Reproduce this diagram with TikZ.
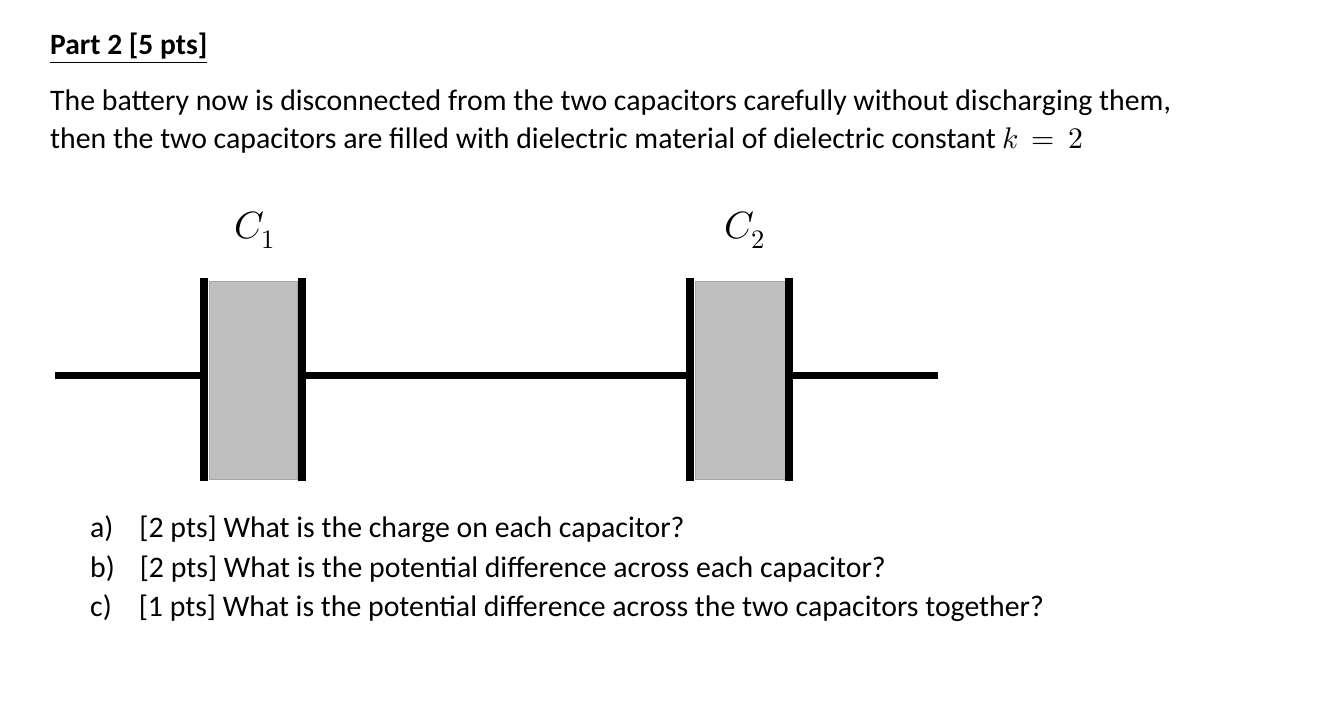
\documentclass[tikz,border=0pt]{standalone}
\usepackage{fontspec}
\usepackage{unicode-math}
\setmainfont{Carlito}
\setmathfont{Latin Modern Math}
\begin{document}
\begin{tikzpicture}[x=1pt,y=-1pt,
  body/.style={anchor=base west,inner sep=0pt,font=\fontsize{29.8}{34}\selectfont},
  plate/.style={line width=8pt},
  wire/.style={line width=7pt},
  diel/.style={fill=black!25,draw=black!35,line width=1pt}]
\useasboundingbox (0,0) rectangle (1324,720);
\node[body,font=\bfseries\fontsize{29.5}{34}\selectfont] (title) at (50,54) {\underline{Part 2 [5 pts]}};
\node[body] (l1) at (50,110) {The battery now is disconnected from the two capacitors carefully without discharging them,};
\node[body] (l2) at (50,148) {then the two capacitors are filled with dielectric material of dielectric constant $k\,=\,2$};
% capacitors
\coordinate (w0) at (55,375);
\coordinate (p1a) at (204,375);
\coordinate (p1b) at (301.5,375);
\coordinate (p2a) at (690,375);
\coordinate (p2b) at (789,375);
\coordinate (w1) at (938,375);
\draw[diel] (209,281) rectangle (297,479);
\draw[diel] (695,281) rectangle (785,479);
\draw[wire] (w0) -- (p1a);
\draw[wire] (p1b) -- (p2a);
\draw[wire] (p2b) -- (w1);
\draw[plate] (204,278) -- (204,481);
\draw[plate] (301.5,278) -- (301.5,481);
\draw[plate] (690,278) -- (690,481);
\draw[plate] (789,278) -- (789,481);
\node[font=\fontsize{38}{44}\selectfont] (c1) at (255,230) {$C_1$};
\node[font=\fontsize{38}{44}\selectfont] (c2) at (745,230) {$C_2$};
\node[body] (qa) at (90,537) {a)\hspace{26pt}[2 pts] What is the charge on each capacitor?};
\node[body] (qb) at (90,577) {b)\hspace{25pt}[2 pts] What is the potential difference across each capacitor?};
\node[body] (qc) at (90,616) {c)\hspace{27pt}[1 pts] What is the potential difference across the two capacitors together?};
\end{tikzpicture}
\end{document}
